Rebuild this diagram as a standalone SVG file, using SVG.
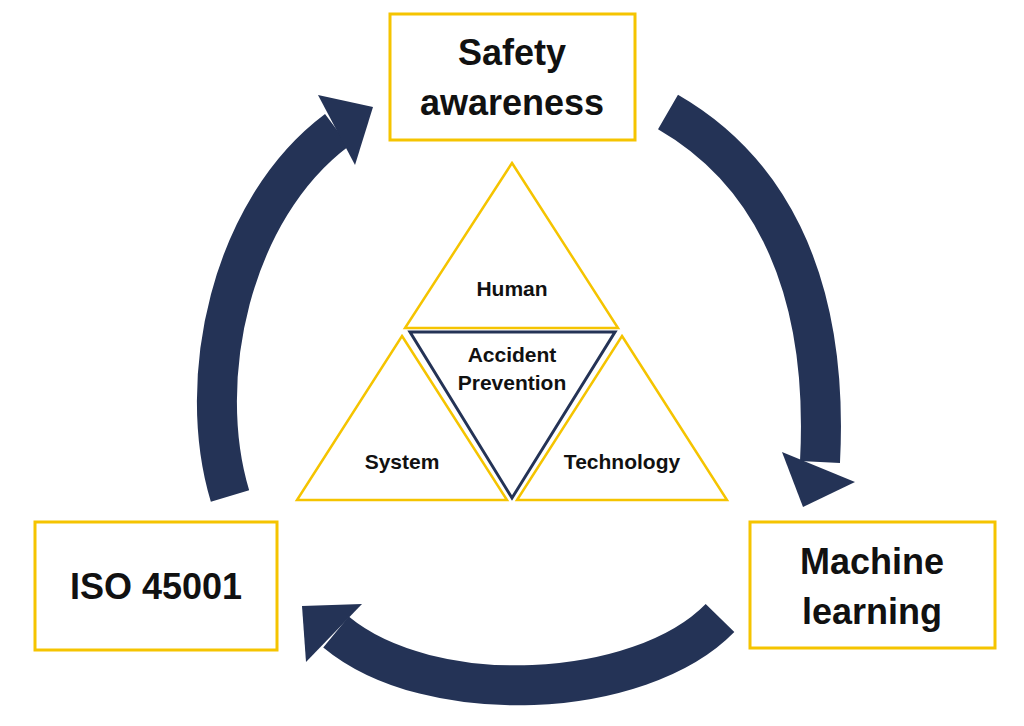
<svg xmlns="http://www.w3.org/2000/svg" width="1024" height="726" viewBox="0 0 1024 726">
<style>
.box{fill:#fff;stroke:#f5c400;stroke-width:3}
.tri{fill:#fff;stroke:#f5c400;stroke-width:2.5;stroke-linejoin:miter}
.arc{fill:none;stroke:#243356;stroke-width:40}
.head{fill:#243356}
.big{font-family:"Liberation Sans",Arial,sans-serif;font-weight:bold;font-size:36px;fill:#111;text-anchor:middle}
.sm{font-family:"Liberation Sans",Arial,sans-serif;font-weight:bold;font-size:21px;fill:#111;text-anchor:middle}
</style>
<rect width="1024" height="726" fill="#fff"/>
<g id="connectors">
<path class="arc" d="M668,112 C760,165 830,270 820,462"/>
<polygon class="head" points="782,452 855,482 803,507"/>
<path class="arc" d="M720,618 C640,700 430,710 336,632"/>
<polygon class="head" points="362,604 302,606 306,662"/>
<path class="arc" d="M230,496 C195,380 230,210 337,130"/>
<polygon class="head" points="318,95 373,107 355,165"/>
</g>
<g id="safety"><rect class="box" x="390" y="14" width="245" height="126"/>
<text class="big" x="512" y="65">Safety</text><text class="big" x="512" y="115">awareness</text></g>
<g id="ml"><rect class="box" x="750" y="522" width="245" height="126"/>
<text class="big" x="872" y="574">Machine</text><text class="big" x="872" y="624">learning</text></g>
<g id="iso"><rect class="box" x="35" y="522" width="242" height="128"/>
<text class="big" x="156" y="599">ISO 45001</text></g>
<g id="human"><polygon class="tri" points="512,163 618,328 405,328"/><text class="sm" x="512" y="296">Human</text></g>
<g id="system"><polygon class="tri" points="402,336 507,500 297,500"/><text class="sm" x="402" y="469">System</text></g>
<g id="technology"><polygon class="tri" points="622,336 727,500 517,500"/><text class="sm" x="622" y="469">Technology</text></g>
<g id="accident"><polygon points="410,332 615,332 512,498" fill="#fff" stroke="#243356" stroke-width="3"/>
<text class="sm" x="512" y="362">Accident</text><text class="sm" x="512" y="390">Prevention</text></g>
</svg>
